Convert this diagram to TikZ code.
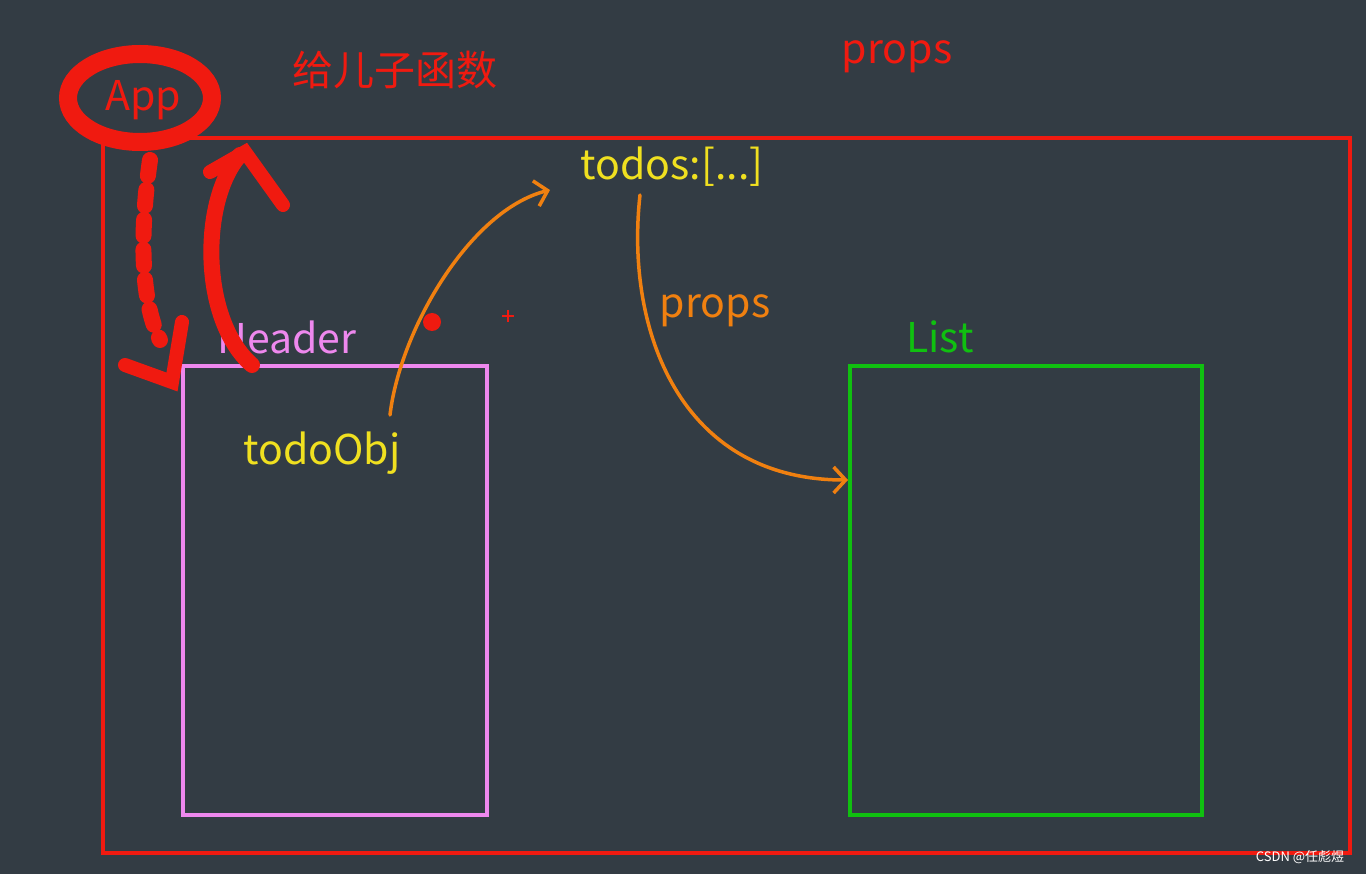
\documentclass[tikz,border=0pt]{standalone}
\usepackage{fontspec}
\setmainfont{Noto Sans CJK SC}
\usetikzlibrary{arrows.meta}
\definecolor{bg}{HTML}{333C44}
\definecolor{rd}{HTML}{F01A10}
\definecolor{yl}{HTML}{F0E020}
\definecolor{pk}{HTML}{EE88EE}
\definecolor{gn}{HTML}{10C010}
\definecolor{og}{HTML}{F08010}
\tikzset{lbl/.style={inner sep=0pt,font=\fontsize{41}{44}\selectfont},
 ora/.style={draw=og,line width=3.5pt,line cap=round,-{Straight Barb[length=12pt,width=26pt,line width=3.5pt]}}}
\begin{document}
\begin{tikzpicture}[x=1pt,y=-1pt]
\fill[bg] (0,0) rectangle (1366,874);
\draw[rd,line width=4pt] (103,138) rectangle (1350,853);
\draw[pk,line width=4pt] (183,366) rectangle (487,815);
\draw[gn,line width=4pt] (850,366) rectangle (1202,815);
\node[lbl,text=rd] (app) at (143,100) {App};
\draw[rd,line width=18pt] (140,98) ellipse (72 and 44);
\node[lbl,text=rd] (fn) at (395,70) {给儿子函数};
\node[lbl,text=rd] (p1) at (897,57) {props};
\node[lbl,text=yl] (todos) at (672,167) {todos:[...]};
\node[lbl,text=pk] (hd) at (287,337) {Header};
\node[lbl,text=gn] (ls) at (940,337) {List};
\node[lbl,text=yl] (obj) at (322,453) {todoObj};
\node[lbl,text=og] (p2) at (715,311) {props};
\coordinate (a1) at (390,415);
\coordinate (a2) at (550,190);
\draw[ora] (a1) .. controls (400,330) and (470,210) .. (a2);
\coordinate (b1) at (640,195);
\coordinate (b2) at (848,480);
\draw[ora] (b1) .. controls (625,330) and (680,480) .. (b2);
\coordinate (d1) at (150,160);
\coordinate (d2) at (170,382);
\draw[rd,line width=16pt,dash pattern=on 16pt off 14pt,line cap=round] (d1) .. controls (140,230) and (140,300) .. (160,340);
\draw[rd,line width=14pt,line cap=round] (125,365) -- (172,382) -- (182,322);
\coordinate (u1) at (252,365);
\draw[rd,line width=16pt,line cap=round] (u1) .. controls (200,320) and (200,200) .. (240,155);
\draw[rd,line width=14pt,line cap=round] (210,172) -- (245,152) -- (283,205);
\fill[rd] (432,322) circle (9);
\draw[rd,line width=1.5pt] (502,316) -- (514,316) (508,310) -- (508,322);
\node[inner sep=0pt,text=white,font=\fontsize{13}{14}\selectfont] (wm) at (1300,857) {CSDN @任彪煜};
\end{tikzpicture}
\end{document}
